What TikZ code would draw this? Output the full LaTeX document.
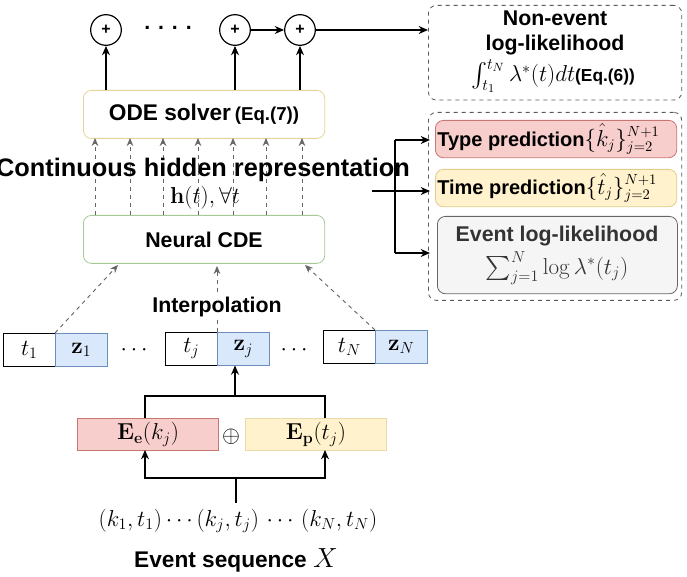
\documentclass[tikz,border=0pt]{standalone}
\usepackage{amsmath,amssymb}
\usepackage[no-math]{fontspec}
\setmainfont{Liberation Sans}
\usetikzlibrary{arrows.meta}
\definecolor{yf}{HTML}{FFF2CC}\definecolor{yd}{HTML}{D6B656}
\definecolor{rf}{HTML}{F8CECC}\definecolor{rd}{HTML}{B85450}
\definecolor{bf}{HTML}{DAE8FC}\definecolor{bd}{HTML}{6C8EBF}
\definecolor{gd}{HTML}{82B366}
\begin{document}
\begin{tikzpicture}[x=0.75pt,y=-0.75pt,
  every node/.style={inner sep=0pt},
  arr/.style={-{Stealth[length=7pt,width=6pt]},line width=0.9pt},
  darr/.style={-{Stealth[length=6pt,width=5pt]},dashed,gray!80!black,line width=0.7pt},
  plus/.style={circle,draw,line width=0.9pt,minimum size=23pt,font=\bfseries\fontsize{12}{12}\selectfont},
  rbox/.style={draw,rounded corners=6pt,line width=0.6pt},
  cell/.style={draw,minimum width=39pt,minimum height=24.5pt,line width=0.6pt,font=\fontsize{18}{18}\selectfont},
  zcell/.style={cell,fill=bf,draw=bd},
  bt/.style={font=\bfseries\fontsize{16}{18}\selectfont}]
\useasboundingbox (0,0) rectangle (687,577);
% plus circles
\node[plus] (p1) at (106,30) {+};
\node[plus] (p2) at (235,30) {+};
\node[plus] (p3) at (300,30) {+};
\node[font=\bfseries\fontsize{16}{16}\selectfont] (pd) at (168,28) {. . . .};
\draw[arr] (p2) -- (p3);
% top-right dashed box
\node[rbox,dashed,draw=gray!70!black,minimum width=190pt,minimum height=71pt,anchor=north west] (ne) at (428,5) {};
\node[font=\bfseries\fontsize{16}{19}\selectfont,align=center] (net) at (555,33) {Non-event\\log-likelihood};
\node[font=\fontsize{18}{18}\selectfont] (nef) at (553,76) {$\int_{t_1}^{t_N}\lambda^*(t)dt$\textbf{\fontsize{13}{13}\selectfont(Eq.(6))}};
\draw[arr] (p3) -- (ne.west|-p3);
% ODE solver
\node[rbox,draw=yd!60,minimum width=181pt,minimum height=36pt,anchor=north west] (ode) at (83,90) {};
\node[font=\bfseries\fontsize{17}{17}\selectfont] (odet) at (204,114) {ODE solver\,{\fontsize{14}{14}\selectfont(Eq.(7))}};
\foreach \x/\p in {106/p1,235/p2,300/p3} \draw[arr] (\x,90) -- (\p);
% Neural CDE
\node[rbox,draw=gd!70,minimum width=181pt,minimum height=36pt,anchor=north west] (cde) at (83,215) {};
\node[font=\bfseries\fontsize{16}{16}\selectfont] (cdet) at (204,240) {Neural CDE};
\foreach \x in {95,130,163,198,233,266,302} \draw[darr] (\x,215) -- (\x,138);
\node[font=\bfseries\fontsize{19}{19}\selectfont] (chr) at (203,170) {Continuous hidden representation};
\node[font=\fontsize{19}{19}\selectfont] (ht) at (205,198) {$\mathbf{h}(t),\forall t$};
% cells
\node[cell,anchor=north west] (t1) at (3,333) {$t_1$};
\node[zcell,anchor=north west] (z1) at (55,333) {$\mathbf{z}_1$};
\node[font=\fontsize{18}{18}\selectfont] (d1) at (136,350) {$\cdots$};
\node[cell,anchor=north west] (tj) at (165,332) {$t_j$};
\node[zcell,anchor=north west] (zj) at (217,332) {$\mathbf{z}_j$};
\node[font=\fontsize{18}{18}\selectfont] (d2) at (296,350) {$\cdots$};
\node[cell,anchor=north west] (tn) at (323,330) {$t_N$};
\node[zcell,anchor=north west] (zn) at (375,330) {$\mathbf{z}_N$};
\draw[darr] (z1.north west) -- (118,265);
\draw[darr] (zj.north west) -- (217,266);
\draw[darr] (zn.north west) -- (305,265);
\node[font=\bfseries\fontsize{16}{16}\selectfont,fill=white,inner sep=1pt] (ip) at (217,307) {Interpolation};
% embeddings
\node[draw=rd!80,fill=rf,minimum width=106pt,minimum height=24pt,anchor=north west,font=\fontsize{18}{18}\selectfont,line width=0.5pt] (ee) at (77,418) {$\mathbf{E}_{\mathbf{e}}(k_j)$};
\node[font=\fontsize{18}{18}\selectfont] (op) at (231,437) {$\oplus$};
\node[draw=yd!50,fill=yf,minimum width=106pt,minimum height=24pt,anchor=north west,font=\fontsize{18}{18}\selectfont,line width=0.5pt] (ep) at (245,418) {$\mathbf{E}_{\mathbf{p}}(t_j)$};
\coordinate (jt) at (235,396);
\draw[line width=0.9pt] (145,418) |- (jt) -| (325,418);
\draw[arr] (jt) -- (jt|-zj.south);
% sequence
\node[font=\fontsize{18}{18}\selectfont] (seq) at (238,521) {$(k_1,t_1)\cdots(k_j,t_j)\,\cdots\,(k_N,t_N)$};
\node[font=\bfseries\fontsize{17}{17}\selectfont] (es) at (236,560) {Event sequence \fontsize{20}{20}\selectfont$X$};
\coordinate (jb) at (236,478);
\draw[line width=0.9pt] (236,503) -- (jb);
\draw[arr] (jb) -| (145,450);
\draw[arr] (jb) -| (325,450);
% right group
\node[rbox,dashed,draw=gray!70!black,minimum width=190pt,minimum height=141pt,anchor=north west] (grp) at (428,112) {};
\node[rbox,draw=rd!80,fill=rf,minimum width=181pt,minimum height=28pt,anchor=north west] (tp) at (435,120) {};
\node[anchor=west,font=\bfseries\fontsize{15}{15}\selectfont] (tpt) at (437,139) {Type prediction\fontsize{16}{16}\selectfont$\{\hat{k}_j\}_{j=2}^{N+1}$};
\node[rbox,draw=yd!70,fill=yf,minimum width=181pt,minimum height=28pt,anchor=north west] (tm) at (435,169) {};
\node[anchor=west,font=\bfseries\fontsize{15}{15}\selectfont] (tmt) at (437,188) {Time prediction\fontsize{16}{16}\selectfont$\{\hat{t}_j\}_{j=2}^{N+1}$};
\node[rbox,draw=gray!80!black,fill=gray!8,minimum width=180pt,minimum height=58pt,anchor=north west] (el) at (437,216) {};
\node[text=black!80,font=\bfseries\fontsize{16}{16}\selectfont] (elt) at (557,236) {Event log-likelihood};
\node[font=\fontsize{18}{18}\selectfont,text=black!80] (elf) at (557,268) {$\sum_{j=1}^{N}\log\lambda^*(t_j)$};
\draw[arr] (372,191) -- (430,191);
\draw[line width=0.9pt] (395,140) -- (395,253);
\draw[arr] (395,140) -- (430,140);
\draw[arr] (395,253) -- (430,253);
\end{tikzpicture}
\end{document}
